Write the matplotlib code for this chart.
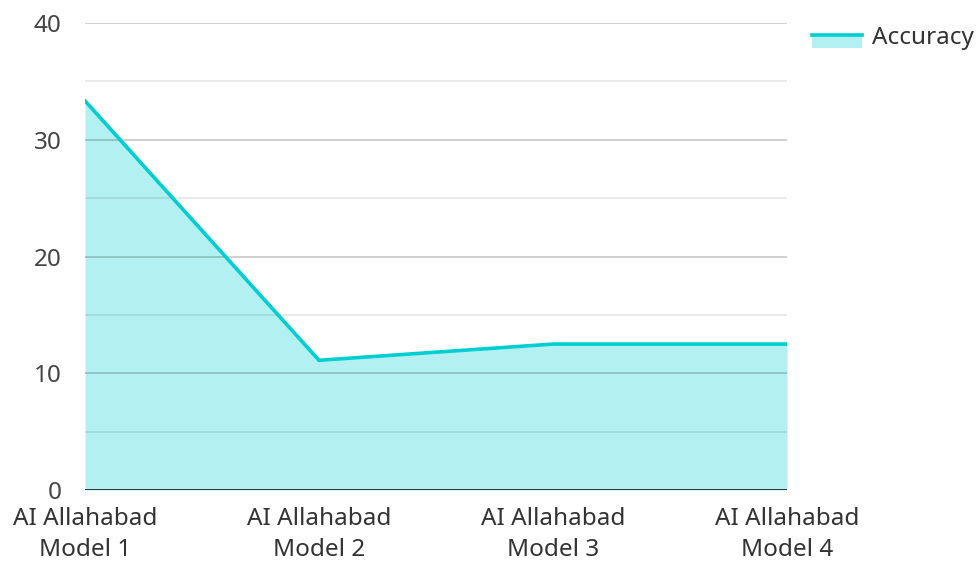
import matplotlib
matplotlib.use("Agg")
import matplotlib.pyplot as plt
from matplotlib.patches import Rectangle
from matplotlib.lines import Line2D

categories = ["AI Allahabad\nModel 1", "AI Allahabad\nModel 2", "AI Allahabad\nModel 3", "AI Allahabad\nModel 4"]
accuracy = [33.33, 11.11, 12.5, 12.5]
series_name = "Accuracy"
y_ticks = [0, 10, 20, 30, 40]

plt.rcParams['font.family'] = ['Noto Sans', 'DejaVu Sans']

W, H = 977, 562
fig = plt.figure(figsize=(W / 100, H / 100), dpi=100)
ax = fig.add_axes([85 / W, 1 - 490 / H, (787 - 85) / W, (490 - 23) / H])

line_color = (0 / 255, 206 / 255, 209 / 255)
fill_color = (0 / 255, 206 / 255, 209 / 255, 0.3)

x = list(range(len(categories)))
ax.fill_between(x, accuracy, 0, color=fill_color, linewidth=0, zorder=1)
ax.plot(x, accuracy, color=line_color, linewidth=2.6, zorder=4, solid_joinstyle='miter')

ax.set_xlim(0, len(categories) - 1)
ax.set_ylim(0, 40)
ax.set_yticks(y_ticks)
ax.set_yticklabels([str(t) for t in y_ticks])
ax.set_yticks([5, 15, 25, 35], minor=True)
ax.set_xticks(x)
ax.set_xticklabels(categories, linespacing=1.38)

for t in y_ticks[1:]:
    ax.axhline(t, color=(0, 0, 0, 0.2), linewidth=1.3, zorder=2)
for t in [5, 15, 25, 35]:
    ax.axhline(t, color=(0, 0, 0, 0.09), linewidth=1.3, zorder=2)
ax.axhline(0, color='#222222', linewidth=2.0, zorder=5)

for s in ax.spines.values():
    s.set_visible(False)
ax.tick_params(axis='both', which='both', length=0, labelsize=17.5, colors='#444444')
ax.tick_params(axis='y', pad=17)
ax.tick_params(axis='x', pad=12)
for lab in ax.get_xticklabels():
    lab.set_color('#333333')

# legend
fig.patches.append(Rectangle((812 / W, 1 - 48 / H), 50 / W, 14 / H, transform=fig.transFigure,
                             facecolor=fill_color, edgecolor='none'))
fig.lines.append(Line2D([812 / W, 862 / W], [1 - 34.5 / H, 1 - 34.5 / H], transform=fig.transFigure,
                        color=line_color, linewidth=2.6))
fig.text(872 / W, 1 - 38 / H, series_name, fontsize=17.5, color='#333333', va='center', ha='left')

fig.savefig("out.png", dpi=100)
